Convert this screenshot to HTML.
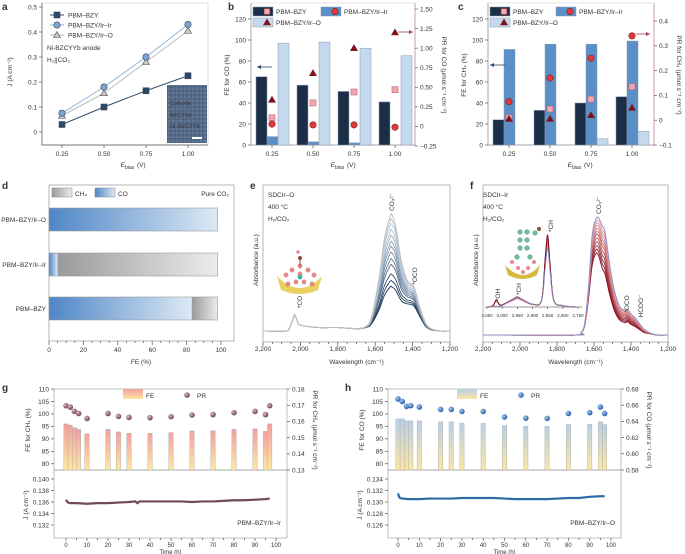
<!DOCTYPE html>
<html><head><meta charset="utf-8"><style>
body{margin:0;background:#fff;}
svg{display:block;font-family:"Liberation Sans",sans-serif;}
text{fill:#333;}
</style></head><body>
<svg id="fig" width="685" height="554" viewBox="0 0 685 554">
<defs>
<linearGradient id="gCO" x1="0" x2="1"><stop offset="0" stop-color="#4f86c6"/><stop offset="1" stop-color="#dce9f5"/></linearGradient>
<linearGradient id="gCH" x1="0" x2="1"><stop offset="0" stop-color="#9a9a9a"/><stop offset="1" stop-color="#ececec"/></linearGradient>
<linearGradient id="gFEg" x1="0" y1="0" x2="0" y2="1"><stop offset="0" stop-color="#f3a0a0"/><stop offset="1" stop-color="#fde6a2"/></linearGradient>
<linearGradient id="gFEh" x1="0" y1="0" x2="0" y2="1"><stop offset="0" stop-color="#b7cfe8"/><stop offset="1" stop-color="#fde6a2"/></linearGradient>
<radialGradient id="sphG" cx="0.35" cy="0.35" r="0.7"><stop offset="0" stop-color="#d8b8c4"/><stop offset="1" stop-color="#6a3c4c"/></radialGradient>
<radialGradient id="sphH" cx="0.35" cy="0.35" r="0.7"><stop offset="0" stop-color="#a8c8f0"/><stop offset="1" stop-color="#1d5aa0"/></radialGradient>
<pattern id="sem" width="4" height="4" patternUnits="userSpaceOnUse"><rect width="4" height="4" fill="#556a88"/><circle cx="1" cy="1" r="0.8" fill="#7188a6"/><circle cx="3" cy="3" r="0.6" fill="#41556f"/></pattern>
</defs>
<g font-weight="bold" font-size="10">
<text x="2" y="10">a</text><text x="228" y="10">b</text><text x="458" y="10">c</text>
<text x="2" y="189">d</text><text x="250" y="189">e</text><text x="470" y="189">f</text>
<text x="2" y="391">g</text><text x="345" y="391">h</text>
</g>
<g id="root"></g>
</svg>
<script>
// ---------- DATA ----------
const aBias = [0.25, 0.50, 0.75, 1.00];
const aBZY = [0.03, 0.10, 0.165, 0.225];
const aIrIr = [0.075, 0.18, 0.30, 0.43];
const aIrO = [0.065, 0.155, 0.28, 0.405];

const bFE_BZY = [65, 57, 51, 41];
const bFE_IrIr = [8, 3, 2, 0];
const bFE_IrO = [97, 98, 92, 85];
const bPR_BZY = [0.11, 0.30, 0.44, 0.47];
const bPR_IrIr = [0.03, 0.02, 0.02, -0.01];
const bPR_IrO = [0.34, 0.68, 1.00, 1.20];

const cFE_BZY = [24, 33, 40, 46];
const cFE_IrIr = [91, 96, 96, 99];
const cFE_IrO = [0, 0, 6, 13];
const cPR_BZY = [0.01, 0.045, 0.085, 0.135];
const cPR_IrIr = [0.075, 0.17, 0.25, 0.34];
const cPR_IrO = [0.005, 0.005, 0.02, 0.05];

const dSamples = ["PBM–BZY/Ir–O", "PBM–BZY/Ir–Ir", "PBM–BZY"];
const dCO = [98, 5, 83];
const dCH4 = [0, 93, 15];

const eWave = [2200,2080,2060,2040,2030,2015,2000,1900,1800,1700,1650,1620,1580,1550,1520,1510,1490,1460,1430,1410,1390,1360,1330,1300,1250,1200];
const eTop = [0,0,0.02,0.10,0.14,0.08,0.05,0.03,0.03,0.02,0.04,0.12,0.45,0.80,0.99,1.00,0.90,0.60,0.44,0.41,0.37,0.20,0.07,0.02,0,0];
const eLow = [0,0,0.02,0.10,0.14,0.08,0.05,0.03,0.03,0.02,0.03,0.06,0.18,0.31,0.38,0.38,0.35,0.26,0.235,0.23,0.21,0.12,0.04,0.01,0,0];
const eMix = [0,0.08,0.17,0.30,0.38,0.47,0.55,0.62,0.70,0.78,0.86,0.93,1.0];

const fWave = [2200,1700,1670,1650,1630,1610,1590,1575,1555,1540,1515,1490,1460,1430,1420,1400,1380,1360,1330,1300,1260,1200];
const fTop = [0,0,0.02,0.10,0.40,0.85,0.99,1.00,0.93,0.88,0.60,0.38,0.24,0.21,0.22,0.18,0.15,0.11,0.05,0.02,0,0];
const fLow = [0,0,0.02,0.08,0.30,0.58,0.68,0.66,0.55,0.50,0.33,0.20,0.12,0.10,0.11,0.085,0.07,0.05,0.02,0.01,0,0];
const fMix = [0.05,0.15,0.25,0.35,0.45,0.55,0.62,0.70,0.78,0.85,0.92];
const fInWave = [3050,3030,3020,3010,3000,2960,2950,2930,2900,2870,2858,2850,2842,2830,2800,2750];
const fInRed = [0,0.02,0.10,0.04,0.03,0.12,0.14,0.10,0.04,0.10,0.70,1.00,0.60,0.10,0.02,0];
const fInBlue = [0,0.01,0.01,0.01,0.02,0.11,0.13,0.10,0.04,0.09,0.55,0.82,0.50,0.09,0.02,0];
const fInScale = [0.80,0.86,0.90,0.94,0.97,1.0];

const tFE = [0,2,4,6,10,20,25,30,40,50,60,70,80,90,95,97];
const gFE = [96,95.5,94.5,93.8,92,93.8,92.8,92.2,92.2,92.5,93.2,93.3,93.8,94,93,96];
const gPR = [0.1697,0.1688,0.1662,0.1649,0.1618,0.1649,0.1631,0.1625,0.1623,0.1629,0.1640,0.1642,0.1654,0.1662,0.1642,0.1697];
const hFE = [98,98,97.2,97.2,97.2,96.8,96.8,96.3,96.2,95.3,95.1,95.0,95.8,95.9,96.8,95.7];
const hPR = [0.6677,0.6646,0.6585,0.6594,0.6578,0.6548,0.6548,0.6523,0.6523,0.6455,0.6440,0.6437,0.6498,0.6508,0.6578,0.6498];
const tJ = [0,0.5,1,2,5,10,15,20,25,30,33,34,35,40,45,50,55,60,65,70,75,80,85,90,95,97];
const gJ = [0.1364,0.1361,0.1359,0.1358,0.1358,0.1357,0.1358,0.1358,0.1359,0.1360,0.1361,0.1358,0.1361,0.1361,0.1361,0.1361,0.1361,0.1360,0.1361,0.1361,0.1362,0.1363,0.1363,0.1364,0.1365,0.1366];
const hJ = [0.1315,0.1309,0.1307,0.1306,0.1305,0.1305,0.1306,0.1306,0.1306,0.1307,0.1307,0.1307,0.1307,0.1307,0.1307,0.1306,0.1305,0.1305,0.1305,0.1305,0.1306,0.1307,0.1307,0.1309,0.1310,0.1310];

// ---------- HELPERS ----------
const NS = "http://www.w3.org/2000/svg";
const root = document.getElementById("root");
function lin(d0,d1,r0,r1){return v=>r0+(v-d0)*(r1-r0)/(d1-d0);}
function mk(tag, attrs, name, inter){
  const el = document.createElementNS(NS, tag);
  for (const k in attrs) el.setAttribute(k, attrs[k]);
  
  
  root.appendChild(el);
  return el;
}
function txt(x,y,s,name,o={}){
  const el = mk("text", Object.assign({x:x,y:y,"font-size":6.5},o), name, false);
  el.textContent = s;
  return el;
}
function rtxt(x,y,s,name,rot,o={}){
  return txt(x,y,s,name,Object.assign({transform:`rotate(${rot} ${x} ${y})`,"text-anchor":"middle"},o));
}
function line(x1,y1,x2,y2,name,stroke="#555",w=0.7){
  return mk("line",{x1,y1,x2,y2,stroke,"stroke-width":w},name,false);
}
function smooth(pts){
  let d = `M${pts[0][0]},${pts[0][1]}`;
  for (let i=0;i<pts.length-1;i++){
    const p0=pts[Math.max(i-1,0)],p1=pts[i],p2=pts[i+1],p3=pts[Math.min(i+2,pts.length-1)];
    const c1=[p1[0]+(p2[0]-p0[0])/6,p1[1]+(p2[1]-p0[1])/6];
    const c2=[p2[0]-(p3[0]-p1[0])/6,p2[1]-(p3[1]-p1[1])/6];
    d+=`C${c1[0]},${c1[1]} ${c2[0]},${c2[1]} ${p2[0]},${p2[1]}`;
  }
  return d;
}
function mixColor(c1,c2,t){
  const a=[1,3,5].map(i=>parseInt(c1.substr(i,2),16)),b=[1,3,5].map(i=>parseInt(c2.substr(i,2),16));
  return "rgb("+a.map((v,i)=>Math.round(v+(b[i]-v)*t)).join(",")+")";
}
function yTicks(x,vals,ys,fmt,name,side){
  vals.forEach(v=>{
    const y=ys(v);
    line(x, y, side>0?x+3:x-3, y, name+"-tick", side>0?"#a04050":"#555");
    txt(side>0?x+5:x-5, y+2.3, fmt(v), name+"-label", {"text-anchor":side>0?"start":"end", fill: side>0?"#a04050":"#333"});
  });
}
function marker(type,x,y,fill,stroke,name){
  if(type==="sq") return mk("rect",{x:x-3,y:y-3,width:6,height:6,fill,stroke,"stroke-width":0.6},name,false);
  if(type==="ci") return mk("circle",{cx:x,cy:y,r:3.2,fill,stroke,"stroke-width":0.6},name,false);
  return mk("path",{d:`M${x},${y-3.5}L${x+3.5},${y+2.5}L${x-3.5},${y+2.5}Z`,fill,stroke,"stroke-width":0.6},name,false);
}

// ---------- PANEL A ----------
(function(){
  const x=lin(0.25,1.0,62,188), y=lin(0,0.5,132,7);
  mk("rect",{x:42,y:3,width:166,height:142,fill:"none",stroke:"#ccc","stroke-width":0.6},"panel-a-frame",false);
  line(42,3,42,145,"a-y-axis"); line(42,145,208,145,"a-x-axis");
  yTicks(42,[0,0.1,0.2,0.3,0.4,0.5],y,v=>v===0?"0":v.toFixed(1),"a-y",-1);
  aBias.forEach(v=>{line(x(v),145,x(v),148,"a-x-tick");txt(x(v),156,v.toFixed(2),"a-x-label",{"text-anchor":"middle"});});
  rtxt(12,72,"J (A cm⁻²)","a-y-axis-title",-90);
  txt(125,167,"E","a-x-axis-title",{"text-anchor":"end","font-style":"italic"});
  txt(125,169,"bias","a-x-axis-title-sub",{"font-size":5});
  txt(137,167,"(V)","a-x-axis-title-unit");
  mk("rect",{x:167,y:85,width:40,height:58,fill:"url(#sem)"},"a-sem-inset",false);
  txt(170,105,"Cathode","a-inset-cathode",{fill:"#e8eef6","font-size":5.5});
  txt(170,117,"BZCYYb","a-inset-bzcyyb",{fill:"#fff","font-size":5.5});
  txt(170,128,"Ni–BZCYYb","a-inset-ni",{fill:"#fff","font-size":5.5});
  mk("rect",{x:192,y:137,width:10,height:2,fill:"#fff"},"a-scale-bar",false);
  const series=[[aIrO,"#bbbbbb","#c8c8c8","tr","ir-o"],[aIrIr,"#8fb3d9","#7aa6d4","ci","ir-ir"],[aBZY,"#34506e","#2a4a6a","sq","bzy"]];
  series.forEach(s=>{
    mk("polyline",{points:aBias.map((v,i)=>x(v)+","+y(s[0][i])).join(" "),fill:"none",stroke:s[1],"stroke-width":1},"a-line-"+s[4],false);
    aBias.forEach((v,i)=>marker(s[3],x(v),y(s[0][i]),s[2],"#445","a-point-"+s[4]));
  });
  const leg=[["PBM–BZY","sq","#2a4a6a","#34506e"],["PBM–BZY/Ir–Ir","ci","#7aa6d4","#8fb3d9"],["PBM–BZY/Ir–O","tr","#c8c8c8","#bbbbbb"]];
  leg.forEach((l,i)=>{const yy=15+i*10;line(50,yy,64,yy,"a-legend-line",l[3],1);marker(l[1],57,yy,l[2],"#445","a-legend-marker");txt(68,yy+2.5,l[0],"a-legend-entry");});
  txt(47,50,"Ni-BZCYYb anode","a-note-anode");
  txt(47,62,"H₂||CO₂","a-note-gas");
})();

// ---------- PANELS B & C ----------
function barPanel(p,L,R,yR,rTicks,rFmt,fe,pr,leftTitle,rightTitle,arrowL,arrowR,rOff,leg2){
  const cx=i=>L+21+i*41, y=lin(0,120,145,19);
  line(L,3,L,145,p+"-y-axis"); line(L,145,R,145,p+"-x-axis");
  line(R,3,R,146,p+"-right-axis","#a04050");
  mk("rect",{x:L,y:3,width:R-L,height:142,fill:"none",stroke:"#ccc","stroke-width":0.5},p+"-frame",false);
  yTicks(L,[0,20,40,60,80,100,120],y,v=>String(v),p+"-y",-1);
  yTicks(R,rTicks,yR,rFmt,p+"-y-right",1);
  aBias.forEach((v,i)=>{line(cx(i),145,cx(i),148,p+"-x-tick");txt(cx(i),156,v.toFixed(2),p+"-x-label",{"text-anchor":"middle"});});
  const cols=["#1b2e47","#5b8fc8","#c4d9ee"], off=[-16,-5,6], nm=["bzy","ir-ir","ir-o"];
  fe.forEach((arr,k)=>arr.forEach((v,i)=>{ if(v>0) mk("rect",{x:cx(i)+off[k],y:y(v),width:11,height:145-y(v),fill:cols[k],stroke:"#8a9ab0","stroke-width":0.5},p+"-bar-"+nm[k],false);}));
  const mt=["sq","ci","tr"], mf=["#f2a7b0","#e23a3a","#7a1020"];
  pr.forEach((arr,k)=>arr.forEach((v,i)=>marker(mt[k],cx(i),yR(v),mf[k],k===0?"#c06070":"#802020",p+"-pr-"+nm[k])));
  rtxt(L-22,75,leftTitle,p+"-y-axis-title",-90,{fill:"#2a4a6a"});
  rtxt(R+rOff,75,rightTitle,p+"-right-axis-title",90,{fill:"#a04050"});
  txt(L+84,167,"E","x-axis-title",{"text-anchor":"end","font-style":"italic"});
  txt(L+84,169,"bias","x-axis-title-sub",{"font-size":5});
  txt(L+96,167,"(V)","x-axis-title-unit");
  line(arrowL[0],arrowL[2],arrowL[1],arrowL[2],p+"-left-arrow","#2a4a6a",0.8);
  mk("path",{d:`M${arrowL[0]},${arrowL[2]}l4,-2v4z`,fill:"#2a4a6a"},p+"-left-arrowhead",false);
  line(arrowR[0],arrowR[2],arrowR[1],arrowR[2],p+"-right-arrow","#a04050",0.8);
  mk("path",{d:`M${arrowR[1]},${arrowR[2]}l-4,-2v4z`,fill:"#a04050"},p+"-right-arrowhead",false);
  const lg=[[0,"PBM–BZY",L+2,8,"sq"],[1,"PBM–BZY/Ir–Ir",L+leg2,8,"ci"],[2,"PBM–BZY/Ir–O",L+2,19,"tr"]];
  lg.forEach(l=>{mk("rect",{x:l[2],y:l[3]-1,width:20,height:9,fill:cols[l[0]],stroke:"#8a9ab0","stroke-width":0.5},p+"-legend-swatch",false);
    marker(l[4],l[2]+14,l[3]+3.5,mf[l[0]],"#802020",p+"-legend-marker");
    txt(l[2]+23,l[3]+6,l[1],p+"-legend-entry");});
}
barPanel("b",251,415,lin(-0.25,1.5,146,9),[-0.25,0,0.25,0.5,0.75,1.0,1.25,1.5],v=>v===0?"0":v.toFixed(2).replace("-","−"),
  [bFE_BZY,bFE_IrIr,bFE_IrO],[bPR_BZY,bPR_IrIr,bPR_IrO],"FE for CO (%)","PR for CO (μmol s⁻¹ cm⁻²)",[257,272,67],[398,413,32],27,70);
barPanel("c",488,654,lin(-0.1,0.4,145,21),[-0.1,0,0.1,0.2,0.3,0.4],v=>v===0?"0":v.toFixed(1).replace("-","−"),
  [cFE_BZY,cFE_IrIr,cFE_IrO],[cPR_BZY,cPR_IrIr,cPR_IrO],"FE for CH₄ (%)","PR for CH₄ (μmol s⁻¹ cm⁻²)",[490,505,65],[636,650,34],23,68);

// ---------- PANEL D ----------
(function(){
  const x=lin(0,100,49,221), bt=[208,253,297], bh=23;
  mk("rect",{x:49,y:185,width:185,height:156,fill:"none",stroke:"#999","stroke-width":0.7},"d-frame",false);
  for(let v=0;v<=100;v+=5){line(x(v),341,x(v),v%20===0?345:343,"d-x-tick");}
  [0,20,40,60,80,100].forEach(v=>txt(x(v),352,String(v),"d-x-label",{"text-anchor":"middle"}));
  txt(141,364,"FE (%)","d-x-axis-title",{"text-anchor":"middle"});
  dSamples.forEach((s,i)=>{
    if(dCO[i]>0) mk("rect",{x:x(0),y:bt[i],width:x(dCO[i])-x(0),height:bh,fill:"url(#gCO)"},"d-bar-co",false);
    if(dCH4[i]>0) mk("rect",{x:x(dCO[i]),y:bt[i],width:x(dCO[i]+dCH4[i])-x(dCO[i]),height:bh,fill:"url(#gCH)"},"d-bar-ch4",false);
    mk("rect",{x:x(0),y:bt[i],width:x(dCO[i]+dCH4[i])-x(0),height:bh,fill:"none",stroke:"#999","stroke-width":0.6},"d-bar-outline",false);
    txt(46,bt[i]+14,s,"d-category-label",{"text-anchor":"end"});
  });
  mk("rect",{x:52,y:188,width:20,height:9,fill:"url(#gCH)",stroke:"#888","stroke-width":0.5},"d-legend-ch4-swatch",false);
  txt(75,196,"CH₄","d-legend-ch4");
  mk("rect",{x:95,y:188,width:20,height:9,fill:"url(#gCO)",stroke:"#888","stroke-width":0.5},"d-legend-co-swatch",false);
  txt(118,196,"CO","d-legend-co");
  txt(229,196,"Pure CO₂","d-legend-pure-co2",{"text-anchor":"end"});
})();

// ---------- PANELS E & F ----------
function specAxes(p,L,R,top,bot){
  mk("rect",{x:L,y:top,width:R-L,height:bot-top,fill:"none",stroke:"#999","stroke-width":0.7},p+"-frame",false);
  const x=lin(2200,1200,L,R);
  for(let w=2200;w>=1200;w-=50){line(x(w),bot,x(w),bot+(w%200===0?4:2),p+"-x-tick");}
  [2200,2000,1800,1600,1400,1200].forEach(w=>txt(x(w),351,w.toLocaleString("en-US"),p+"-x-label",{"text-anchor":"middle"}));
  txt((L+R)/2,364,"Wavelength (cm⁻¹)","x-axis-title",{"text-anchor":"middle"});
  rtxt(L-5,260,"Absorbance (a.u.)",p+"-y-axis-title",-90);
  return x;
}
(function(){
  const x=specAxes("e",263,450,185,342), y=lin(0,1,331,215);
  eMix.forEach((t,k)=>{
    const pts=eWave.map((w,i)=>[x(w),y(eLow[i]+t*(eTop[i]-eLow[i]))]);
    const col = t<0.93 ? mixColor("#14304f","#cfe0f2",t/0.93) : "#bdbdbd";
    mk("path",{d:smooth(pts),fill:"none",stroke:col,"stroke-width":0.9},"e-spectrum",false);
  });
  txt(268,197,"SDCIr–O","e-label-sample"); txt(268,209,"400 °C","e-label-temp"); txt(268,221,"H₂/CO₂","e-label-gas");
  rtxt(394,202,"CO₃²⁻","e-peak-co3",-90); rtxt(417,276,"*OCO","e-peak-oco",-90); rtxt(302,302,"*CO","e-peak-co",-90);
  mk("path",{d:"M277,276 Q300,300 322,276 L318,290 Q300,298 281,290Z",fill:"#e9d060"},"e-molecule-base",false);
  [[286,275],[292,270],[300,266],[308,270],[314,275],[296,282],[304,282],[300,274],[288,284],[312,284]].forEach(c=>mk("circle",{cx:c[0],cy:c[1],r:2.2,fill:"#e88a8a",stroke:"#b55","stroke-width":0.3},"e-atom",false));
  mk("circle",{cx:300,cy:277,r:2.4,fill:"#3fb0a0"},"e-ir-atom",false);
  line(300,258,300,266,"e-bond","#8a5030",1);
  mk("circle",{cx:300,cy:258,r:2,fill:"#8a5030"},"e-c-atom",false);
  mk("circle",{cx:298,cy:252,r:1.8,fill:"#e88a8a"},"e-o-atom",false);
})();
(function(){
  const x=specAxes("f",483,668,185,342), y=lin(0,1,335,218);
  fMix.forEach((t,k)=>{
    const pts=fWave.map((w,i)=>[x(w),y(fLow[i]+t*(fTop[i]-fLow[i]))]);
    mk("path",{d:smooth(pts),fill:"none",stroke:mixColor("#7a0010","#f7b4b4",t),"stroke-width":0.9},"f-spectrum-red",false);
  });
  mk("path",{d:smooth(fWave.map((w,i)=>[x(w),y(fTop[i])])),fill:"none",stroke:"#8a90c8","stroke-width":1},"f-spectrum-blue",false);
  const xi=lin(3050,2750,487,578), yi=lin(0,1,307,235);
  line(485,307,582,307,"f-inset-x-axis","#777");
  [3050,3000,2950,2900,2850,2800,2750].forEach(w=>{line(xi(w),307,xi(w),309,"f-inset-tick");txt(xi(w),317,w.toLocaleString("en-US"),"f-inset-label",{"text-anchor":"middle","font-size":4.5});});
  fInScale.forEach((s,k)=>mk("path",{d:smooth(fInWave.map((w,i)=>[xi(w),yi(fInRed[i]*s)])),fill:"none",stroke:mixColor("#f7b4b4","#7a0010",k/5),"stroke-width":0.8},"f-inset-spectrum",false));
  mk("path",{d:smooth(fInWave.map((w,i)=>[xi(w),yi(fInBlue[i])])),fill:"none",stroke:"#8a90c8","stroke-width":0.9},"f-inset-spectrum-blue",false);
  txt(483,197,"SDCIr–Ir","f-label-sample"); txt(483,209,"400 °C","f-label-temp"); txt(483,221,"H₂/CO₂","f-label-gas");
  rtxt(601,205,"CO₃²⁻","f-peak-co3",-90); rtxt(629,304,"*OCO","f-peak-oco",-90); rtxt(643,306,"HCOO⁻","f-peak-hcoo",-90);
  rtxt(553,226,"*CH","f-peak-ch",-90); rtxt(521,289,"*CH","f-peak-ch2",-90); rtxt(500,295,"*OH","f-peak-oh",-90);
  [[520,232],[527,232],[520,240],[527,240],[520,248],[527,248],[517,257],[530,257],[535,233]].forEach(c=>mk("circle",{cx:c[0],cy:c[1],r:2.3,fill:"#6cc0a0",stroke:"#3a8060","stroke-width":0.4},"f-atom",false));
  mk("path",{d:"M505,265 Q523,285 540,265 L537,275 Q523,283 508,275Z",fill:"#d8b840"},"f-molecule-base",false);
  [[512,262],[518,268],[528,268],[534,262],[523,272]].forEach(c=>mk("circle",{cx:c[0],cy:c[1],r:2,fill:"#e88a8a"},"f-o-atom",false));
  mk("circle",{cx:539,cy:229,r:2,fill:"#8a5030"},"f-c-atom",false);
})();

// ---------- PANELS G & H ----------
function stab(p,L,R,x0,x100,fe,pr,J,jLo,jHi,jTicks,rLo,rHi,rTicks,rFmt,grad,sph,jcol,leftT,rightT,sample){
  const x=lin(0,100,x0,x100), y=lin(77.5,110,470,389), yR=lin(rLo,rHi,470,389), yJ=lin(jLo,jHi,525,479);
  mk("rect",{x:L,y:389,width:R-L,height:149,fill:"none",stroke:"#999","stroke-width":0.6},p+"-frame",false);
  line(L,470,R,470,p+"-divider","#888");
  yTicks(L,[80,85,90,95,100,105,110],y,v=>String(v),p+"-y",-1);
  yTicks(L,jTicks,yJ,v=>v.toFixed(3),p+"-j",-1);
  rTicks.forEach(v=>{line(R,yR(v),R+3,yR(v),p+"-right-tick");txt(R+5,yR(v)+2.3,rFmt(v),p+"-right-label");});
  for(let t=0;t<=100;t+=5){line(x(t),538,x(t),t%10===0?541:540,p+"-x-tick");}
  for(let t=0;t<=100;t+=10) txt(x(t),547,String(t),p+"-x-label",{"text-anchor":"middle","font-size":6});
  txt((L+R)/2,554,"Time (h)",p+"-x-axis-title",{"text-anchor":"middle","font-size":6});
  tFE.forEach((t,i)=>mk("rect",{x:x(t)-2.2,y:y(fe[i]),width:4.4,height:470-y(fe[i]),fill:"url(#"+grad+")",stroke:"#aaa","stroke-width":0.4},p+"-fe-bar",false));
  tFE.forEach((t,i)=>mk("circle",{cx:x(t),cy:yR(pr[i]),r:2.8,fill:"url(#"+sph+")"},p+"-pr-point",false));
  mk("polyline",{points:tJ.map((t,i)=>x(t)+","+yJ(J[i])).join(" "),fill:"none",stroke:jcol,"stroke-width":2.2},p+"-current-line",false);
  rtxt(L-24,430,leftT,p+"-y-axis-title",-90);
  rtxt(L-26,505,"J (A cm⁻²)",p+"-j-axis-title",-90);
  rtxt(R+26,430,rightT,p+"-right-axis-title",90);
  txt(R-6,525,sample,p+"-sample-label",{"text-anchor":"end"});
  mk("rect",{x:L+69,y:389,width:20,height:10,fill:"url(#"+grad+")"},p+"-legend-fe-swatch",false);
  txt(L+92,398,"FE",p+"-legend-fe");
  mk("circle",{cx:L+133,cy:395,r:2.8,fill:"url(#"+sph+")"},p+"-legend-pr-dot",false);
  txt(L+143,398,"PR",p+"-legend-pr");
}
stab("g",54,287,66,276,gFE,gPR,gJ,0.132,0.140,[0.132,0.134,0.136,0.138,0.140],0.13,0.18,[0.13,0.14,0.15,0.16,0.17,0.18],v=>v.toFixed(2),"gFEg","sphG","#6e4a58","FE for CH₄ (%)","PR for CH₄ (μmol s⁻¹ cm⁻²)","PBM–BZY/Ir–Ir");
stab("h",388,621,398,611,hFE,hPR,hJ,0.126,0.134,[0.126,0.128,0.130,0.132,0.134],0.58,0.68,[0.58,0.60,0.62,0.64,0.66,0.68],v=>v.toFixed(2),"gFEh","sphH","#2e6aa8","FE for CO (%)","PR for CO (μmol s⁻¹ cm⁻²)","PBM–BZY/Ir–O");
</script>
</body></html>
